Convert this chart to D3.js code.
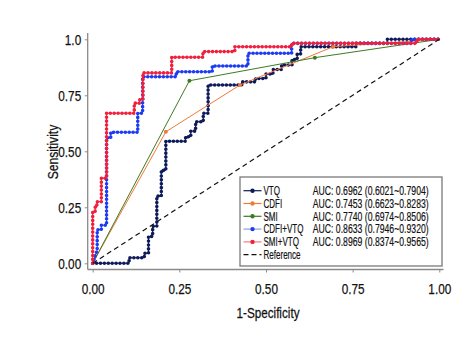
<!DOCTYPE html>
<html><head><meta charset="utf-8">
<script src="https://cdn.jsdelivr.net/npm/d3@7"></script>
<style>
body{margin:0;background:#fff;}
svg{display:block;}
text{font-family:"Liberation Sans",Arial,sans-serif;fill:#111;stroke:#111;stroke-width:0.25px;}
</style></head>
<body>
<svg id="chart" width="474" height="355"></svg>
<script>
// ---- data (FPR, TPR) ----
const vtq = [[0,0],[0.105,0],[0.105,0.025],[0.149,0.025],[0.149,0.045],[0.161,0.045],[0.161,0.12],[0.173,0.12],[0.173,0.165],[0.185,0.165],[0.185,0.30],[0.198,0.30],[0.198,0.415],[0.211,0.415],[0.211,0.545],[0.268,0.545],[0.268,0.565],[0.283,0.565],[0.283,0.59],[0.297,0.59],[0.297,0.632],[0.319,0.632],[0.319,0.67],[0.333,0.67],[0.333,0.796],[0.43,0.796],[0.43,0.81],[0.47,0.81],[0.47,0.825],[0.5,0.825],[0.5,0.845],[0.52,0.845],[0.52,0.865],[0.545,0.865],[0.545,0.885],[0.575,0.885],[0.575,0.91],[0.59,0.91],[0.59,0.935],[0.6,0.935],[0.6,0.967],[0.76,0.967],[0.76,0.982],[0.85,0.982],[0.85,1],[1,1]];
const cdfi = [[0,0],[0.211,0.587],[0.425,0.796],[0.694,0.967],[1,1]];
const smi = [[0,0],[0.279,0.815],[0.641,0.918],[1,1]];
const cdfiVtq = [[0,0],[0.013,0.06],[0.013,0.15],[0.025,0.15],[0.025,0.17],[0.04,0.17],[0.04,0.56],[0.052,0.56],[0.052,0.585],[0.13,0.585],[0.13,0.67],[0.144,0.67],[0.144,0.833],[0.241,0.833],[0.241,0.855],[0.345,0.855],[0.345,0.881],[0.448,0.881],[0.448,0.9375],[0.574,0.9375],[0.574,0.982],[0.92,0.982],[0.92,1],[1,1]];
const smiVtq = [[0,0],[0,0.23],[0.007,0.23],[0.007,0.25],[0.012,0.25],[0.012,0.275],[0.025,0.275],[0.025,0.38],[0.04,0.38],[0.04,0.67],[0.12,0.67],[0.12,0.715],[0.135,0.715],[0.135,0.73],[0.145,0.73],[0.145,0.85],[0.228,0.85],[0.228,0.92],[0.318,0.92],[0.318,0.945],[0.41,0.945],[0.41,0.967],[0.574,0.967],[0.574,0.982],[0.935,0.982],[0.935,1],[1,1]];
const reference = [[0,0],[1,1]];

const seriesNames = ["VTQ","CDFI","SMI","CDFI+VTQ","SMI+VTQ","Reference"];
const aucLabels = ["AUC: 0.6962 (0.6021~0.7904)","AUC: 0.7453 (0.6623~0.8283)","AUC: 0.7740 (0.6974~0.8506)","AUC: 0.8633 (0.7946~0.9320)","AUC: 0.8969 (0.8374~0.9565)",""];
const xTickValues = [0,0.25,0.5,0.75,1];
const xTickLabels = ["0.00","0.25","0.50","0.75","1.00"];
const yTickValues = [0,0.25,0.5,0.75,1];
const yTickLabels = ["0.00","0.25","0.50","0.75","1.0"];

// ---- styles ----
const styles = [
  {data:vtq, line:"#0e1a5a", dot:"#0e1a5a", dense:true},
  {data:cdfi, line:"#f07a3a", dot:"#f07a3a", dense:false},
  {data:smi, line:"#3f7a22", dot:"#3f7a22", dense:false},
  {data:cdfiVtq, line:"#2a44f0", dot:"#1d3cf2", dense:true, legLine:"#8a9cf2"},
  {data:smiVtq, line:"#f0203c", dot:"#f0203c", dense:true, legLine:"#f4788c"},
];

// condensed look: shrink glyph widths of a text selection
function condense(sel, k){
  sel.each(function(){
    const w = this.getComputedTextLength();
    d3.select(this).attr("textLength", w*k).attr("lengthAdjust","spacingAndGlyphs");
  });
}

const svg = d3.select("#chart");
const x = d3.scaleLinear().domain([0,1]).range([92.7,439.3]);
const y = d3.scaleLinear().domain([0,1]).range([263.3,39.3]);
const line = d3.line().x(d=>x(d[0])).y(d=>y(d[1]));

// axes
const axisColor = "#8a8a8a";
const gx = svg.append("g").attr("transform","translate(0,269.5)")
  .call(d3.axisBottom(x).tickValues(xTickValues).tickFormat((d,i)=>xTickLabels[i]).tickSize(3).tickPadding(10).tickSizeOuter(0));
gx.select(".domain").remove();
gx.selectAll(".tick line").attr("stroke",axisColor);
gx.selectAll(".tick text").attr("font-size",15.5).attr("fill","#111").attr("font-family","Liberation Sans, Arial, sans-serif").call(condense,0.76);
svg.append("line").attr("x1",87.7).attr("x2",443.5).attr("y1",269.5).attr("y2",269.5).attr("stroke",axisColor).attr("stroke-width",1.3);

const gy = svg.append("g").attr("transform","translate(87.7,0)")
  .call(d3.axisLeft(y).tickValues(yTickValues).tickFormat((d,i)=>yTickLabels[i]).tickSize(3).tickPadding(3.5).tickSizeOuter(0));
gy.select(".domain").remove();
gy.selectAll(".tick line").attr("stroke",axisColor);
gy.selectAll(".tick text").attr("font-size",15.5).attr("fill","#111").attr("font-family","Liberation Sans, Arial, sans-serif").call(condense,0.76);
svg.append("line").attr("x1",87.7).attr("x2",87.7).attr("y1",33).attr("y2",269.5).attr("stroke",axisColor).attr("stroke-width",1.3);

svg.append("text").attr("transform","translate(57.5,152) rotate(-90) scale(0.81,1)").attr("text-anchor","middle")
  .attr("font-size",15).text("Sensitivity");
svg.append("text").attr("transform","translate(268,318) scale(0.78,1)").attr("text-anchor","middle")
  .attr("font-size",15).text("1-Specificity");

// curves
const plot = svg.append("g");
styles.forEach(s=>{
  plot.append("path").attr("d",line(s.data)).attr("fill","none").attr("stroke",s.line).attr("stroke-width",1);
  if(s.dense){
    plot.append("path").attr("d",line(s.data)).attr("fill","none").attr("stroke",s.dot)
      .attr("stroke-width",3.6).attr("stroke-linecap","round").attr("stroke-dasharray","0 3.9");
  } else {
    plot.selectAll(null).data(s.data.slice(1,-1)).enter().append("circle")
      .attr("cx",d=>x(d[0])).attr("cy",d=>y(d[1])).attr("r",2).attr("fill",s.dot);
  }
});
plot.append("path").attr("d",line(reference)).attr("fill","none").attr("stroke","#111")
  .attr("stroke-width",1.2).attr("stroke-dasharray","5 3.5");

// legend
const lg = svg.append("g");
lg.append("rect").attr("x",240).attr("y",177).attr("width",202).attr("height",89)
  .attr("fill","#fff").attr("stroke","#7a7a7a").attr("stroke-width",1.3);
const rowY = i => 190.7 + i*12.8;
seriesNames.forEach((name,i)=>{
  const yy = rowY(i);
  if(i<5){
    const s = styles[i];
    lg.append("line").attr("x1",243.5).attr("x2",261.5).attr("y1",yy).attr("y2",yy)
      .attr("stroke",s.legLine||s.line).attr("stroke-width",1.2);
    lg.append("circle").attr("cx",252.5).attr("cy",yy).attr("r",2.2).attr("fill",s.dot);
  } else {
    lg.append("line").attr("x1",243.5).attr("x2",261.5).attr("y1",yy).attr("y2",yy)
      .attr("stroke","#111").attr("stroke-width",1.3).attr("stroke-dasharray","5 3");
  }
  lg.append("text").attr("transform",`translate(263.5,${yy}) scale(0.67,1)`).attr("dy","0.36em").attr("font-size",12)
    .style("stroke-width","0.18px").text(name);
  if(aucLabels[i]){
    const t = lg.append("text").attr("dy","0.36em").attr("font-size",12)
      .style("stroke-width","0.18px").text(aucLabels[i]);
    const w = t.node().getComputedTextLength();
    t.attr("transform",`translate(312.7,${yy}) scale(${116/w},1)`);
  }
});
</script>
</body></html>
